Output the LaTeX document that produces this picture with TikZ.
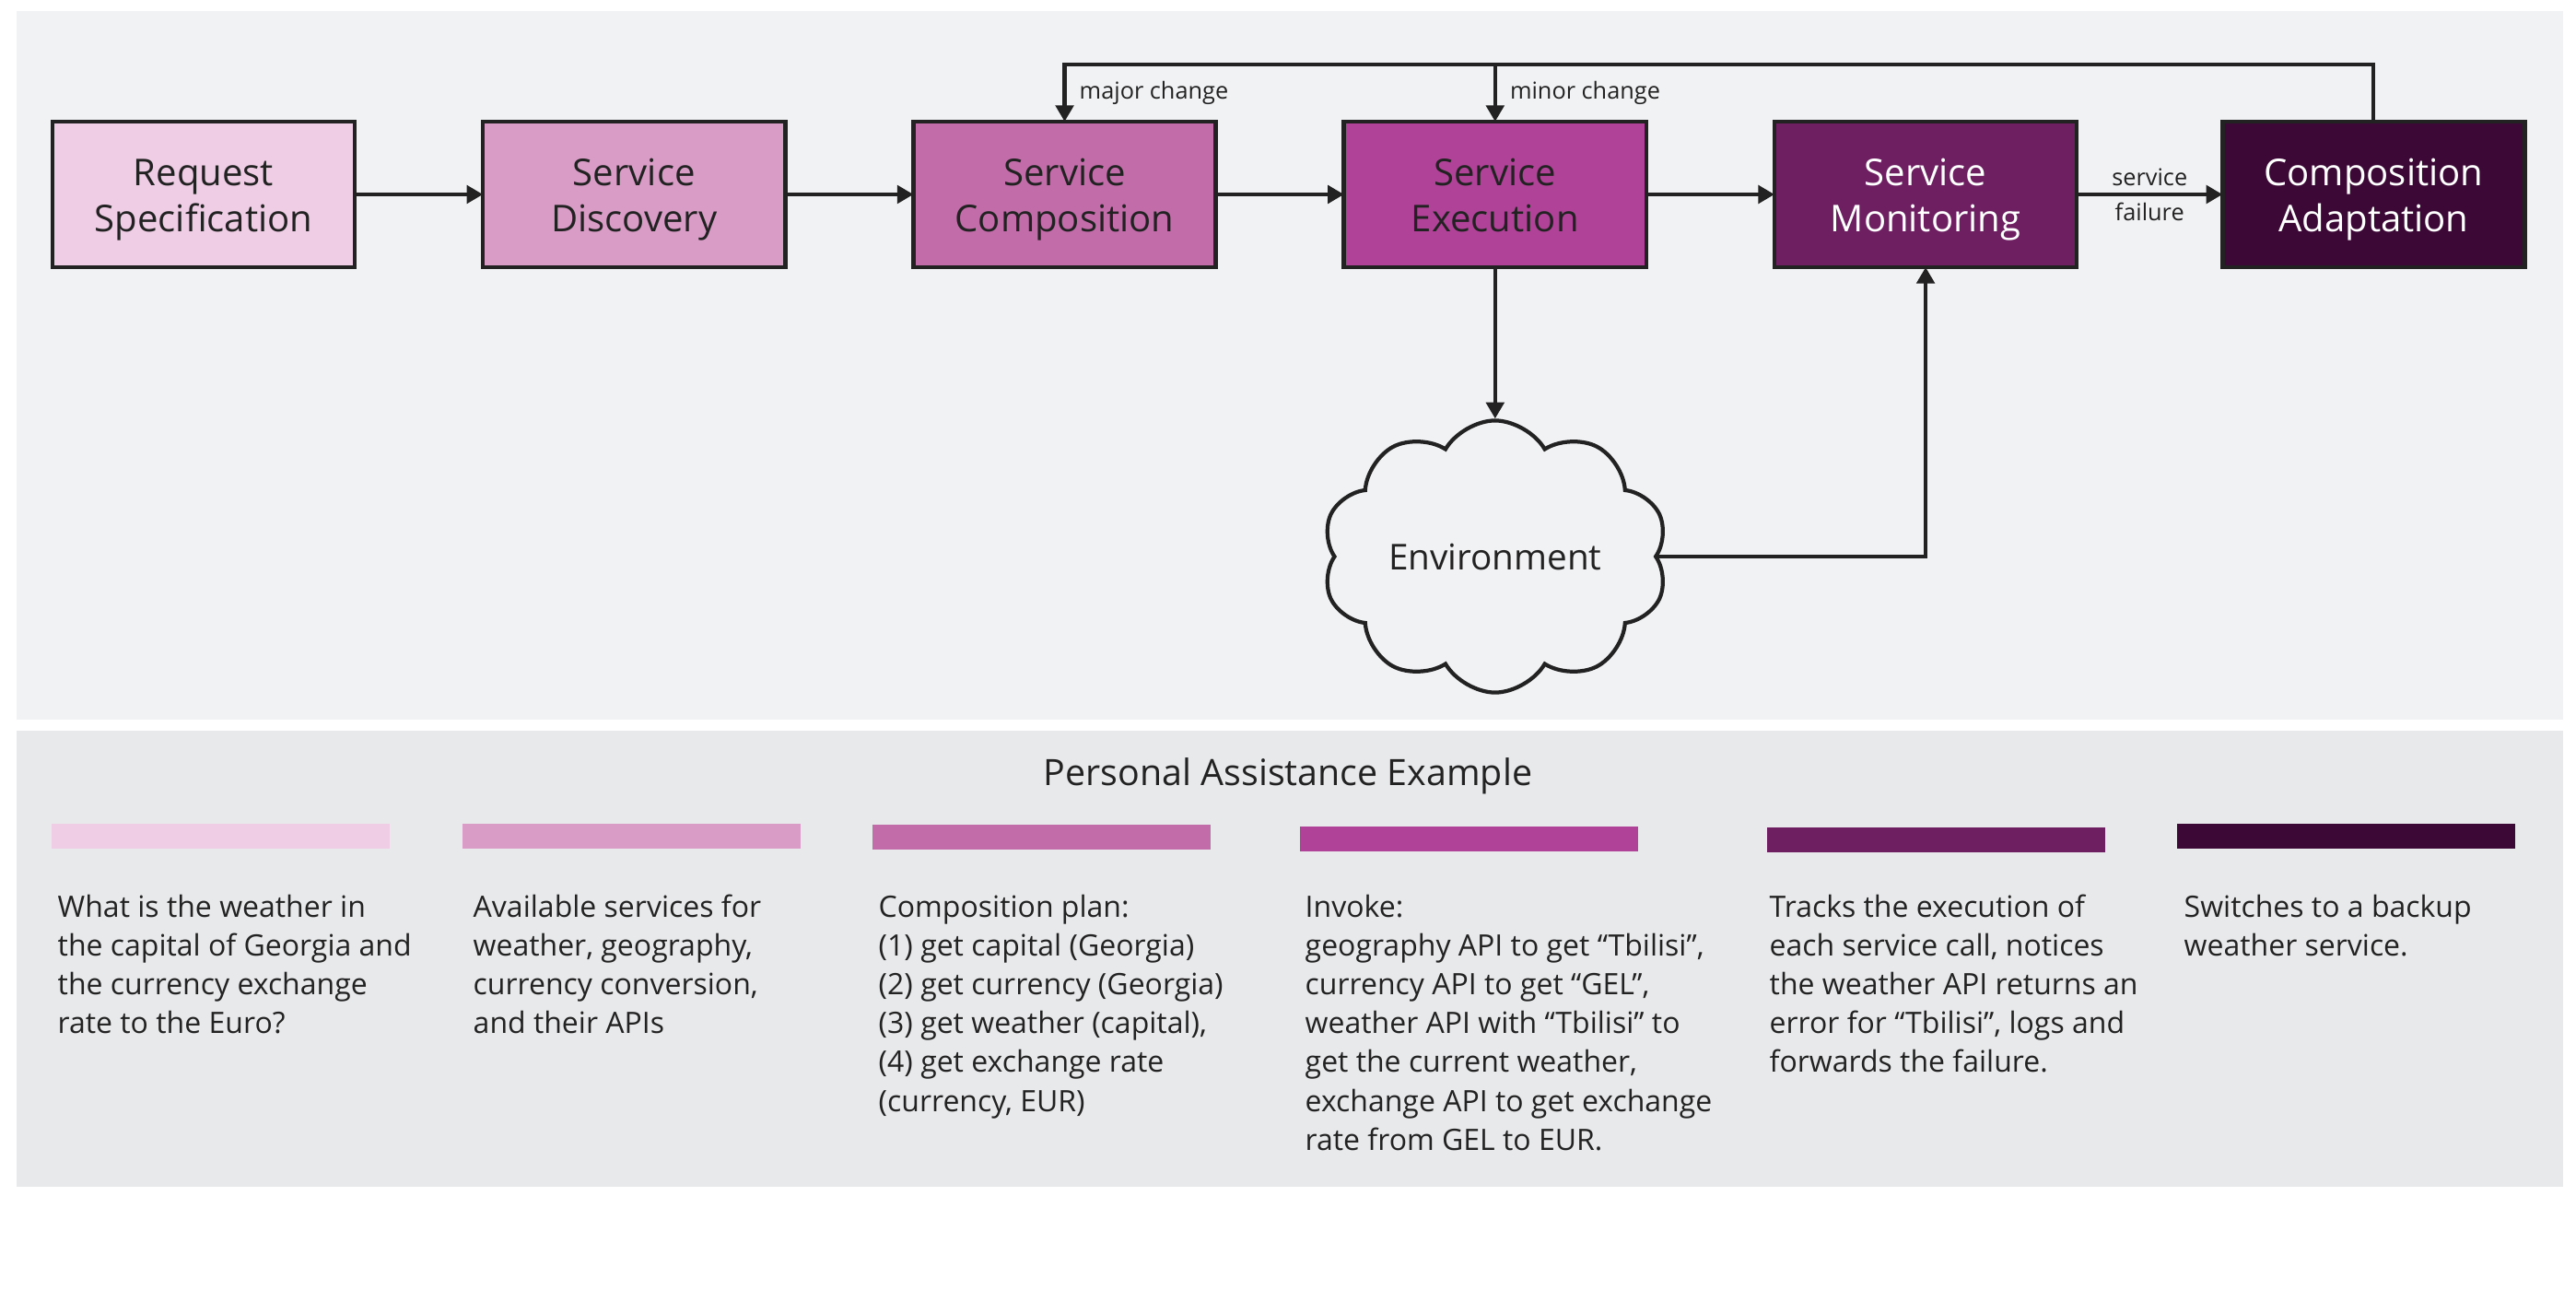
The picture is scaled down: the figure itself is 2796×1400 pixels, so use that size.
\documentclass[tikz,border=0pt]{standalone}
\usepackage{fontspec}
\setmainfont{Open Sans}
\usetikzlibrary{arrows.meta, positioning, shapes.symbols}
\definecolor{panelgray}{HTML}{F1F2F4}
\definecolor{lowergray}{HTML}{E8E9EB}
\definecolor{inkdark}{HTML}{222222}
\definecolor{stepone}{HTML}{EFCDE4}
\definecolor{steptwo}{HTML}{D89CC6}
\definecolor{stepthree}{HTML}{C26CA9}
\definecolor{stepfour}{HTML}{B04397}
\definecolor{stepfive}{HTML}{6D1F62}
\definecolor{stepsix}{HTML}{3C0836}

\tikzset{
  stage/.style={draw=inkdark, line width=1.3pt, minimum width=3.28cm, minimum height=1.58cm,
    align=center, inner sep=0pt, outer sep=0pt, text=inkdark, font=\fontsize{11.4}{14.2}\selectfont,
    execute at begin node={\rule{0pt}{27.2pt}}, execute at end node={\rule[-4pt]{0pt}{4pt}}},
  flow/.style={->, draw=inkdark, line width=1.2pt},
  tag/.style={text=inkdark, inner sep=2pt, font=\fontsize{7.2}{8.6}\selectfont},
  note/.style={anchor=north west, align=left, inner sep=0pt, text=inkdark,
    font=\fontsize{9.1}{12}\selectfont},
}

\begin{document}
\begin{tikzpicture}[x=0.01cm, y=-0.01cm, >={Triangle[length=5pt,width=5.5pt]}]
		% panels
		\useasboundingbox (0,0) rectangle (2796,1400);
		\fill[panelgray] (18,12) rectangle (2782,781);
		\fill[lowergray] (18,793) rectangle (2782,1288);

		% process chain
		\node[stage, fill=stepone] (req) at (221,211) {Request\\Specification};
		\node[stage, fill=steptwo, right=1.39cm of req] (disc) {Service\\Discovery};
		\node[stage, fill=stepthree, right=1.39cm of disc] (comp) {Service\\Composition};
		\node[stage, fill=stepfour, right=1.39cm of comp] (exec) {Service\\Execution};
		\node[stage, fill=stepfive, text=white, right=1.39cm of exec] (mon) {Service\\Monitoring};
		\node[stage, fill=stepsix, text=white, right=1.58cm of mon] (adapt) {Composition\\Adaptation};

		\node[cloud, cloud puffs=10, cloud puff arc=120, cloud ignores aspect, draw=inkdark, line width=1.2pt,
			fill=panelgray, minimum width=3.75cm, minimum height=2.95cm, text=inkdark,
			font=\fontsize{11}{13}\selectfont] (env) at (exec |- 0,604) {Environment};

		\draw[flow] (req) -- (disc);
		\draw[flow] (disc) -- (comp);
		\draw[flow] (comp) -- (exec);
		\draw[flow] (exec) -- (mon);
		\draw[flow] (mon) -- (adapt) node[tag, midway, above] {service} node[tag, midway, below] {failure};

		% adaptation feedback
		\path (adapt.north) ++(0,-62) coordinate (looptop);
		\draw[flow] (adapt.north) -- (looptop) -| (comp.north) node[tag, pos=0.75, right=2pt] {major change};
		\draw[flow] (exec.north |- looptop) -- (exec.north) node[tag, midway, right=2pt] {minor change};

		% environment
		\draw[flow] (exec) -- (env);
		\draw[flow] (env.east) -| (mon.south);

		% example row
		\node[text=inkdark, font=\fontsize{11.2}{13}\selectfont] (title) at (1398,842) {Personal Assistance Example};
		\foreach \x/\y/\c in {56/894/stepone, 502/894/steptwo, 947/895/stepthree, 1411/897/stepfour, 1918/898/stepfive, 2363/894/stepsix}
			\fill[\c] (\x,\y) rectangle ++(367,27);

		\node[note] (notereq) at (62,970) {What is the weather in\\the capital of Georgia and\\the currency exchange\\rate to the Euro?};
		\node[note] (notedisc) at (513,970) {Available services for\\weather, geography,\\currency conversion,\\and their APIs};
		\node[note] (notecomp) at (953,970) {Composition plan:\\(1) get capital (Georgia)\\(2) get currency (Georgia)\\(3) get weather (capital),\\(4) get exchange rate\\(currency, EUR)};
		\node[note] (noteexec) at (1416,970) {Invoke:\\geography API to get “Tbilisi”,\\currency API to get “GEL”,\\weather API with “Tbilisi” to\\get the current weather,\\exchange API to get exchange\\rate from GEL to EUR.};
		\node[note] (notemon) at (1920,970) {Tracks the execution of\\each service call, notices\\the weather API returns an\\error for “Tbilisi”, logs and\\forwards the failure.};
		\node[note] (noteadapt) at (2370,970) {Switches to a backup\\weather service.};
\end{tikzpicture}
\end{document}
